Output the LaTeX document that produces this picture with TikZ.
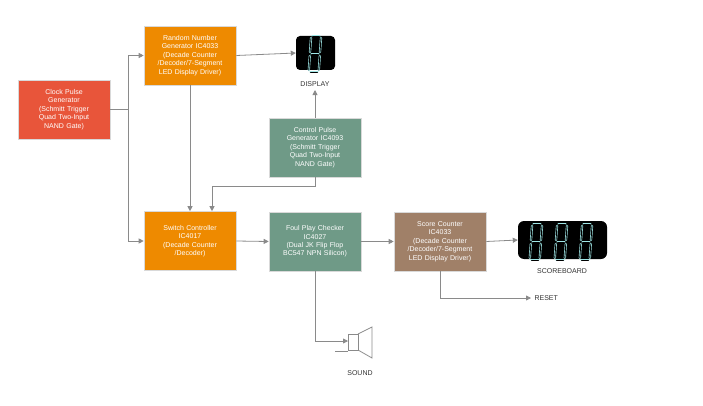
\documentclass[tikz,border=0pt]{standalone}
\usepackage{fontspec}
\setmainfont{Liberation Sans}
\usetikzlibrary{arrows.meta}
\definecolor{cred}{HTML}{E8553A}
\definecolor{corg}{HTML}{EE8A00}
\definecolor{cgrn}{HTML}{6F9A87}
\definecolor{cbrn}{HTML}{A08068}
\definecolor{ccyan}{HTML}{9FE6E6}
\definecolor{cline}{HTML}{8A8A8A}
\tikzset{
 blk/.style={draw=white!85!black,line width=0.6pt,minimum width=92pt,minimum height=59pt,text width=88pt,align=center,text=white,font=\fontsize{7}{8.4}\selectfont,inner sep=0pt},
 lbl/.style={font=\fontsize{7}{8}\selectfont,text=black!80},
 con/.style={draw=cline,line width=0.8pt},
 arr/.style={con,-{Triangle[length=5pt,width=5pt]}},
 seg/.style={draw=ccyan,line width=2.2pt,line cap=round},
 segi/.style={draw=black,line width=0.9pt,line cap=round},
 pics/digit/.style={code={
  \foreach \a/\b in {{(1.5,0)}/{(8.5,0)},{(0.5,18)}/{(7.5,18)},{(-0.5,36)}/{(6.5,36)},{(10,2)}/{(9,16)},{(8.8,20)}/{(7.8,34)},{(0,2)}/{(-1,16)},{(-1.2,20)}/{(-2.2,34)}}{
   \draw[seg] \a -- \b; \draw[segi] \a -- \b;}
 }}
}
\begin{document}
\begin{tikzpicture}[x=1pt,y=-1pt]
\useasboundingbox (0,0) rectangle (703,406);
\node[blk,fill=cred] (clk) at (64,109.5) {Clock Pulse\\Generator\\(Schmitt Trigger\\Quad Two-Input\\NAND Gate)};
\node[blk,fill=corg] (rng) at (190,55.5) {Random Number\\Generator IC4033\\(Decade Counter\\/Decoder/7-Segment\\LED Display Driver)};
\node[blk,fill=corg] (sw) at (190,241) {Switch Controller\\IC4017\\(Decade Counter\\/Decoder)};
\node[blk,fill=cgrn] (ctl) at (315,147.5) {Control Pulse\\Generator IC4093\\(Schmitt Trigger\\Quad Two-Input\\NAND Gate)};
\node[blk,fill=cgrn] (foul) at (315,241.5) {Foul Play Checker\\IC4027\\(Dual JK Flip Flop\\BC547 NPN Silicon)};
\node[blk,fill=cbrn] (score) at (440,241.5) {Score Counter\\IC4033\\(Decade Counter\\/Decoder/7-Segment\\LED Display Driver)};
% display
\node[fill=black,rounded corners=4pt,minimum width=39pt,minimum height=34pt,inner sep=0pt] (disp) at (315.5,53) {};
\pic at (311,36) {digit};
\node[lbl] (displ) at (315,84) {DISPLAY};
% scoreboard
\node[fill=black,rounded corners=6pt,minimum width=89pt,minimum height=38pt,inner sep=0pt] (sb) at (562.5,240) {};
\foreach \xx in {532,557,582} \pic at (\xx,224) {digit};
\node[lbl] (sbl) at (562,271) {SCOREBOARD};
% sound
\draw[con] (348,334) rectangle (358,350);
\draw[con] (358,334) -- (372,327) -- (372,358) -- (358,350);
\draw[con] (335,351) -- (348,351);
\coordinate (spk) at (348,341);
\node[lbl] (snd) at (360,373) {SOUND};
\node[lbl,anchor=west] (rst) at (531,298) {RESET};
% connectors
\coordinate (j) at (128,109.5);
\draw[con] (clk.east) -- (j);
\draw[arr] (j) |- (rng.west);
\draw[arr] (j) |- (sw.west);
\draw[arr] (rng.east) -- (disp.west);
\draw[arr] (rng.south) -- (sw.north);
\draw[arr] (ctl.north) -- (displ.south);
\draw[arr] (ctl.south) -- ++(0,9) -| ([xshift=22pt]sw.north);
\draw[arr] (sw.east) -- (foul.west);
\draw[arr] (foul.east) -- (score.west);
\draw[arr] (score.east) -- (sb.west);
\draw[arr] (score.south) |- (rst.west);
\draw[arr] (foul.south) |- (spk);
\end{tikzpicture}
\end{document}
